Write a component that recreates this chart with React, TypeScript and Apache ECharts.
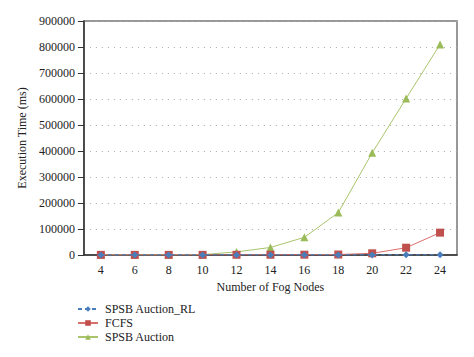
import React, { useEffect, useRef } from "react";
import * as echarts from "echarts";

const categories = ["4", "6", "8", "10", "12", "14", "16", "18", "20", "22", "24"];
const spsbAuctionRL = [300, 300, 300, 300, 300, 300, 300, 300, 300, 500, 600];
const fcfs = [500, 500, 500, 600, 800, 1000, 1200, 1800, 6500, 28000, 86000];
const spsbAuction = [600, 700, 800, 1500, 12000, 29000, 68000, 163000, 393000, 602000, 810000];
const yTicks = { min: 0, max: 900000, interval: 100000 };

const FONT = "serif";

export default function App() {
  const ref = useRef<HTMLDivElement>(null);
  useEffect(() => {
    if (!ref.current) return;
    const chart = echarts.init(ref.current, undefined, { renderer: "svg" });
    chart.setOption({
      animation: false,
      textStyle: { fontFamily: FONT },
      grid: { left: 67, right: 9, top: 13, bottom: 102, containLabel: false, show: true, borderColor: "#777", borderWidth: 1.5 },
      legend: {
        orient: "vertical",
        left: 64,
        top: 290,
        height: 50,
        itemWidth: 20,
        itemHeight: 7,
        itemGap: 2,
        textStyle: { fontFamily: FONT, fontSize: 12, color: "#222", padding: [0, 0, 0, 2] },
        data: ["SPSB Auction_RL", "FCFS", "SPSB Auction"],
      },
      xAxis: {
        type: "category",
        data: categories,
        boundaryGap: true,
        name: "Number of Fog Nodes",
        nameLocation: "middle",
        nameGap: 24,
        nameTextStyle: { fontFamily: FONT, fontSize: 12, color: "#222" },
        axisLine: { lineStyle: { color: "#333", width: 1.5 } },
        axisTick: { show: false },
        axisLabel: { fontFamily: FONT, fontSize: 12, color: "#222", margin: 9 },
      },
      yAxis: {
        type: "value",
        min: yTicks.min,
        max: yTicks.max,
        interval: yTicks.interval,
        name: "Execution Time (ms)",
        nameLocation: "middle",
        nameGap: 53,
        nameRotate: 90,
        nameTextStyle: { fontFamily: FONT, fontSize: 12, color: "#222" },
        axisLine: { show: true, lineStyle: { color: "#333", width: 1.5 } },
        axisTick: { show: true, length: 6, lineStyle: { color: "#333" } },
        axisLabel: { fontFamily: FONT, fontSize: 12, color: "#222", margin: 9, formatter: (v: number) => String(v) },
        splitLine: { show: true, lineStyle: { color: "#aaa", type: [1, 5], width: 1 } },
      },
      series: [
        {
          name: "SPSB Auction_RL",
          type: "line",
          data: spsbAuctionRL,
          symbol: "diamond",
          symbolSize: 7,
          itemStyle: { color: "#4a7ebb" },
          lineStyle: { color: "#4a7ebb", type: [4, 3], width: 1.2 },
          z: 3,
        },
        {
          name: "FCFS",
          type: "line",
          data: fcfs,
          symbol: "rect",
          symbolSize: 8,
          itemStyle: { color: "#c0504d" },
          lineStyle: { color: "#d9706d", width: 1 },
          z: 2,
        },
        {
          name: "SPSB Auction",
          type: "line",
          data: spsbAuction,
          symbol: "triangle",
          symbolSize: 8,
          itemStyle: { color: "#9bbb59" },
          lineStyle: { color: "#a9c46c", width: 1 },
          z: 1,
        },
      ],
    });
    return () => chart.dispose();
  }, []);
  return <div ref={ref} style={{ width: 458, height: 349 }} />;
}
